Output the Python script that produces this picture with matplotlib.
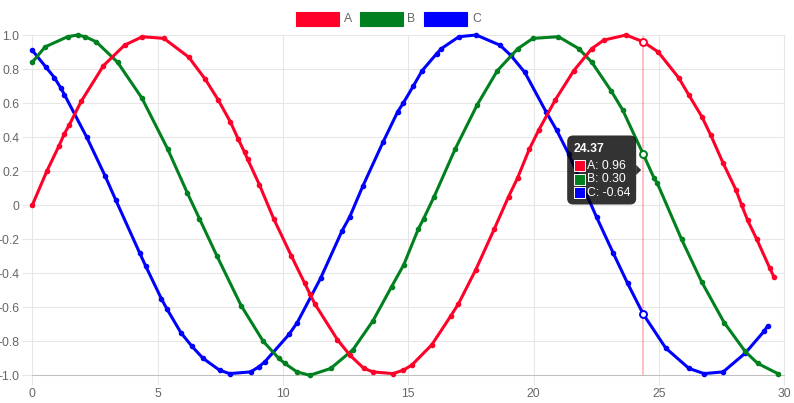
import matplotlib.pyplot as plt
import matplotlib.patches as mpatches
import matplotlib.transforms as mtransforms

plt.rcParams['font.family'] = ['Liberation Sans', 'DejaVu Sans']

# series A (red)
a_x = [0, 0.58, 1.07, 1.28, 1.47, 1.95, 2.84, 3.68, 4.39, 5.25, 6.24, 6.9, 7.41, 7.9,
       8.21, 8.47, 8.59, 9.06, 9.63, 10.34, 10.87, 11.07, 11.27, 12.17, 12.66, 13.23,
       13.6, 14.39, 14.8, 15.14, 15.94, 16.7, 17.0, 17.69, 18.43, 19.0, 19.36, 19.83,
       20.2, 20.87, 21.6, 22.32, 22.8, 23.69, 24.37, 24.97, 25.78, 26.18, 26.71, 27.07,
       27.55, 28.07, 28.3, 28.54, 28.9, 29.42, 29.58]
a_y = [0, 0.20, 0.35, 0.42, 0.47, 0.61, 0.82, 0.94, 0.99, 0.98, 0.87, 0.74, 0.62, 0.49,
       0.39, 0.31, 0.27, 0.12, -0.08, -0.30, -0.46, -0.52, -0.58, -0.79, -0.88, -0.96,
       -0.98, -0.99, -0.97, -0.94, -0.82, -0.65, -0.58, -0.38, -0.14, 0.05, 0.16, 0.33,
       0.44, 0.62, 0.79, 0.92, 0.97, 1.00, 0.96, 0.90, 0.75, 0.65, 0.52, 0.41,
       0.25, 0.09, 0.00, -0.09, -0.20, -0.37, -0.42]

# series B (green)
b_x = [0, 0.51, 1.41, 1.81, 2.11, 2.55, 3.4, 4.37, 5.4, 6.19, 6.67, 7.37, 8.33, 9.21,
       9.83, 10.07, 10.56, 11.07, 11.9, 12.79, 13.59, 14.33, 14.82, 15.4, 15.61, 16.03,
       16.87, 17.75, 18.55, 19.37, 19.97, 20.99, 21.8, 22.32, 23.1, 23.55, 24.37, 24.8,
       24.93, 25.9, 26.7, 27.6, 28.44, 28.94, 29.74]
b_y = [0.84, 0.93, 0.99, 1.00, 0.99, 0.96, 0.84, 0.63, 0.33, 0.07, -0.08, -0.30, -0.59, -0.80,
       -0.90, -0.93, -0.98, -1.00, -0.96, -0.85, -0.68, -0.48, -0.35, -0.14, -0.08, 0.05,
       0.33, 0.59, 0.79, 0.92, 0.98, 0.99, 0.92, 0.84, 0.67, 0.56, 0.30, 0.16,
       0.13, -0.20, -0.45, -0.69, -0.86, -0.93, -0.99]

# series C (blue)
c_x = [0, 0.55, 0.88, 1.13, 1.28, 2.17, 2.91, 3.33, 4.28, 4.53, 5.15, 5.37, 5.93, 6.37,
       6.81, 7.47, 7.87, 8.71, 9.04, 9.28, 10.24, 10.57, 11.5, 12.36, 12.66, 13.18,
       13.99, 14.58, 14.8, 15.2, 15.55, 16.13, 16.32, 17.02, 17.71, 18.66, 19.09, 19.65,
       20.49, 20.92, 21.4, 22.51, 23.17, 23.75, 24.37, 25.27, 26.2, 26.8, 27.56, 28.44,
       29.2, 29.33]
c_y = [0.91, 0.81, 0.75, 0.69, 0.65, 0.40, 0.17, 0.03, -0.28, -0.36, -0.55, -0.61, -0.75, -0.83,
       -0.90, -0.97, -0.99, -0.98, -0.95, -0.92, -0.76, -0.69, -0.43, -0.15, -0.07, 0.11,
       0.37, 0.55, 0.60, 0.70, 0.79, 0.89, 0.92, 0.99, 1.00, 0.94, 0.88, 0.78,
       0.55, 0.44, 0.30, -0.07, -0.28, -0.46, -0.64, -0.84, -0.96, -0.99, -0.98, -0.87,
       -0.74, -0.71]

labels = ['A', 'B', 'C']
colors = ['#ff0029', '#00801e', '#0000ff']
hover_x = 24.37
hover_vals = [0.96, 0.30, -0.64]

y_ticks = [-1.0, -0.8, -0.6, -0.4, -0.2, 0, 0.2, 0.4, 0.6, 0.8, 1.0]
y_tick_labels = ['-1.0', '-0.8', '-0.6', '-0.4', '-0.2', '0', '0.2', '0.4', '0.6', '0.8', '1.0']
x_ticks = [0, 5, 10, 15, 20, 25, 30]

W, H = 794, 403
fig = plt.figure(figsize=(W / 100, H / 100), dpi=100)
ax = fig.add_axes([32.3 / W, (H - 375.3) / H, (784.3 - 32.3) / W, (375.3 - 35) / H])
ax.set_xlim(0, 30)
ax.set_ylim(-1, 1)

grid_c = '#e6e6e6'
ax.set_yticks(y_ticks)
ax.set_yticklabels(y_tick_labels)
ax.set_xticks(x_ticks)
ax.grid(True, color=grid_c, lw=0.75, zorder=0)
ax.set_axisbelow(True)
ax.tick_params(length=7.2, width=0.75, color=grid_c, labelcolor='#666666',
               labelsize=8.8, pad=2)
for side in ['left', 'top', 'right']:
    ax.spines[side].set_color(grid_c)
    ax.spines[side].set_linewidth(0.75)
ax.spines['bottom'].set_color('#bfbfbf')
ax.spines['bottom'].set_linewidth(0.75)
ax.axhline(0, color='#bfbfbf', lw=0.75, zorder=0.5)

# hover line
ax.axvline(hover_x, color=(1, 0, 0.16, 0.3), lw=1.2, zorder=1)

series = [(a_x, a_y), (b_x, b_y), (c_x, c_y)]
for i, (xs, ys) in enumerate(series):
    ax.plot(xs, ys, color=colors[i], lw=2.2, marker='o', ms=3.0,
            clip_on=False, zorder=5 - i, solid_capstyle='round')

for i, v in enumerate(hover_vals):
    ax.plot(hover_x, v, 'o', mfc='white', mec=colors[i], ms=5, mew=1.4,
            zorder=8, clip_on=False)

ident = mtransforms.IdentityTransform()

# legend
legend_boxes = [296, 360, 424]
legend_text = [344, 407.5, 472]
for i, lab in enumerate(labels):
    fig.add_artist(mpatches.Rectangle((legend_boxes[i], H - 26), 43, 14.3,
                                      fc=colors[i], ec=colors[i], lw=0.8,
                                      transform=ident))
    fig.text(legend_text[i], H - 19, lab, transform=ident, color='#666666',
             fontsize=8.8, va='center', ha='left')

# tooltip
tip_x, tip_y = ax.transData.transform((hover_x, sum(hover_vals) / 3))
box_w, box_h = 69, 69
right = tip_x - 7
left = right - box_w
top = tip_y + box_h / 2
fig.add_artist(mpatches.FancyBboxPatch((left, top - box_h), box_w, box_h,
                                       boxstyle='round,pad=0,rounding_size=6',
                                       fc=(0, 0, 0, 0.8), ec='none',
                                       transform=ident, zorder=10))
fig.add_artist(mpatches.Polygon([[right, tip_y + 5], [right + 5, tip_y], [right, tip_y - 5]],
                                closed=True, fc=(0, 0, 0, 0.8), ec='none',
                                transform=ident, zorder=10))
fig.text(left + 6, top - 13.5, '%.2f' % hover_x, transform=ident, color='white',
         fontsize=8.8, fontweight='bold', va='center', ha='left', zorder=11)
row_y = [30.5, 44, 57.5]
for i, lab in enumerate(labels):
    fig.add_artist(mpatches.Rectangle((left + 6.5, top - row_y[i] - 5.5), 11, 11,
                                      fc=colors[i], ec='white', lw=0.7,
                                      transform=ident, zorder=11))
    fig.text(left + 19.5, top - row_y[i], '%s: %.2f' % (lab, hover_vals[i]),
             transform=ident, color='white', fontsize=8.8, va='center',
             ha='left', zorder=11)

fig.savefig('out.png', dpi=100)
